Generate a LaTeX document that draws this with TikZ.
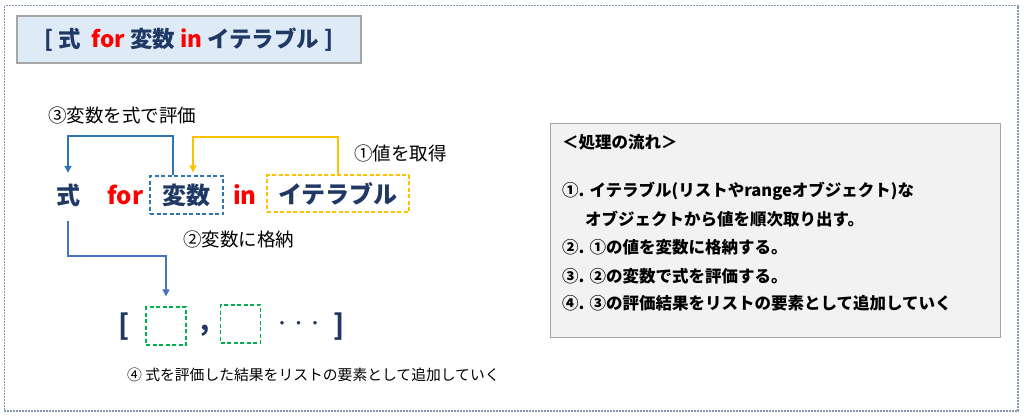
\documentclass[tikz,border=0pt]{standalone}
\usepackage{fontspec}
\setmainfont{Noto Sans CJK JP}
\usetikzlibrary{positioning, arrows.meta}
\definecolor{navy}{HTML}{1F3864}
\definecolor{titlefill}{HTML}{DEEBF7}
\definecolor{boxline}{HTML}{A6A6A6}
\definecolor{flowfill}{HTML}{F2F2F2}
\definecolor{frameline}{HTML}{8497B0}
\definecolor{evalblue}{HTML}{2E75B6}
\definecolor{getyellow}{HTML}{FFC000}
\definecolor{storeblue}{HTML}{4472C4}
\definecolor{slotgreen}{HTML}{00B050}
\tikzstyle{title-box}=[
draw=boxline,
line width=2pt,
fill=titlefill,
minimum width=344pt,
minimum height=47pt,
text=navy,
font=\fontsize{22.5}{26}\selectfont\bfseries,
]
\tikzstyle{code-item}=[
inner sep=0pt,
minimum height=38pt,
text=navy,
font=\fontsize{24}{28}\selectfont\bfseries,
]
\tikzstyle{code-box}=[
code-item,
line width=1.3pt,
dash pattern=on 4pt off 2.5pt,
]
\tikzstyle{list-slot}=[
draw=slotgreen,
line width=1.3pt,
dash pattern=on 4pt off 2.5pt,
minimum width=40pt,
minimum height=38pt,
]
\tikzstyle{step-label}=[
anchor=west,
inner sep=0pt,
font=\fontsize{18.5}{22}\selectfont,
]
\tikzstyle{flow-line}=[
anchor=west,
inner sep=0pt,
font=\fontsize{16.5}{20}\selectfont\bfseries,
]
\tikzstyle{flow-arrow}=[
line width=1.6pt,
-{Triangle[length=7pt,width=7pt]},
]

\begin{document}
\begin{tikzpicture}[x=1pt, y=-1pt]
        \useasboundingbox (0,0) rectangle (1024,415);
        \draw[frameline, line width=1.4pt, dash pattern=on 2pt off 1pt] (4.5,5.5) rectangle (1018,411);

        \node[title-box] (title) at (189,39.5) {[ 式\ \ \textcolor{red}{for} 変数 \textcolor{red}{in} イテラブル ]};

        % main expression
        \node[code-item] (shiki) at (68,195) {式};
        \node[code-item, text=red] (for) at (125.5,195) {for};
        \node[code-box, draw=evalblue, minimum width=73pt] (hensu) at (186.5,195) {変数};
        \node[code-item, text=red] (in) at (245,195) {in};
        \node[code-box, draw=getyellow, minimum width=142pt, minimum height=37pt] (iter) at (338,193.5) {イテラブル};

        \coordinate (evaltop) at (0,136);
        \coordinate (gettop) at (0,137);
        \coordinate (storeturn) at (0,256);

        \draw[flow-arrow, evalblue, shorten >=3pt] ([xshift=-13.5pt]hensu.north) -- ([xshift=-13.5pt]hensu.north |- evaltop) -| (shiki.north);
        \draw[flow-arrow, getyellow, shorten >=3pt] (iter.north) -- (iter.north |- gettop) -| ([xshift=6.5pt]hensu.north);

        \node[step-label] (evallabel) at (48,115) {③変数を式で評価};
        \node[step-label] (getlabel) at (354,153) {①値を取得};
        \node[step-label] (storelabel) at (183,239) {②変数に格納};

        % result list
        \node[code-item, font=\fontsize{28}{32}\selectfont\bfseries] (lbrack) at (124.5,327) {[};
        \node[list-slot] (slot1) at (166,326) {};
        \node[code-item, font=\fontsize{26}{30}\selectfont\bfseries] (comma) at (205,331) {,};
        \node[list-slot] (slot2) at (240.5,324) {};
        \node[code-item, font=\fontsize{16.5}{20}\selectfont] (dots) at (298.5,325) {・・・};
        \node[code-item, font=\fontsize{28}{32}\selectfont\bfseries] (rbrack) at (339,327) {]};

        \draw[flow-arrow, storeblue, line width=1.3pt, shorten <=7pt] (shiki.south) -- (shiki.south |- storeturn) -| ([yshift=10pt]slot1.north);

        \node[step-label, font=\fontsize{14.8}{18}\selectfont] (addlabel) at (127,375) {④ 式を評価した結果をリストの要素として追加していく};

        % flow of processing
        \node[draw=boxline, line width=1pt, fill=flowfill, minimum width=450pt, minimum height=214pt] (flow) at (775,230) {};
        \node[flow-line] (f0) at (562,142) {＜処理の流れ＞};
        \node[flow-line] (f1) at (562,191) {①. イテラブル(リストやrangeオブジェクト)な};
        \node[flow-line] (f2) at ([xshift=23pt, yshift=-28pt]f1.west) {オブジェクトから値を順次取り出す。};
        \node[flow-line] (f3) at ([yshift=-56pt]f1.west) {②. ①の値を変数に格納する。};
        \node[flow-line] (f4) at ([yshift=-85pt]f1.west) {③. ②の変数で式を評価する。};
        \node[flow-line] (f5) at ([yshift=-112pt]f1.west) {④. ③の評価結果をリストの要素として追加していく};
      \end{tikzpicture}
\end{document}
